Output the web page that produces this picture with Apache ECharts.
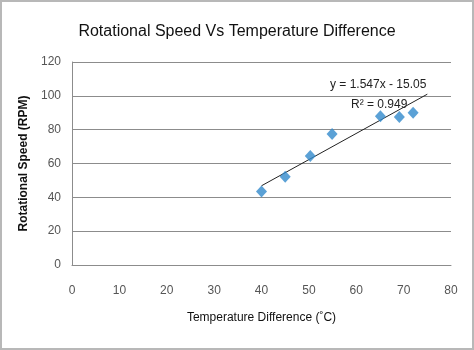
<!DOCTYPE html>
<html>
<head>
<meta charset="utf-8">
<script src="https://cdn.jsdelivr.net/npm/echarts@6/dist/echarts.min.js"></script>
<style>
    html, body { margin: 0; padding: 0; background: #fff; }
    #chart { width: 474px; height: 350px; box-sizing: border-box; border: 2px solid #b8b8b8; }
</style>
</head>
<body>
<div id="chart"></div>
<script>
// 数据
const tempDiff = [40, 45, 50.3, 54.9, 65.1, 69.1, 72];
const speed = [43.5, 52.2, 64.5, 77.5, 88, 87.5, 90];
const xTicks = [0, 10, 20, 30, 40, 50, 60, 70, 80];
const yTicks = [0, 20, 40, 60, 80, 100, 120];

// 趋势线 y = 1.547x - 15.05
const slope = 1.547;
const intercept = -15.05;
const trendRange = [40, 75];

const FONT = '"Liberation Sans", Arial, sans-serif';

const chart = echarts.init(document.getElementById('chart'));

const option = {
    animation: false,
    title: {
        text: 'Rotational Speed Vs Temperature Difference',
        left: 'center',
        top: 17,
        textStyle: { fontFamily: FONT, fontSize: 16, fontWeight: 'normal', color: '#111' }
    },
    grid: { left: 70, right: 21, top: 60, bottom: 83 },
    xAxis: {
        type: 'value',
        min: xTicks[0],
        max: xTicks[xTicks.length - 1],
        interval: 10,
        name: 'Temperature Difference (˚C)',
        nameLocation: 'middle',
        nameGap: 47,
        nameTextStyle: { fontFamily: FONT, fontSize: 12, color: '#111' },
        axisLine: { show: true, lineStyle: { color: '#8c8c8c' } },
        axisTick: { show: false },
        splitLine: { show: false },
        axisLabel: { fontFamily: FONT, fontSize: 12, color: '#555', margin: 20 }
    },
    yAxis: {
        type: 'value',
        min: yTicks[0],
        max: yTicks[yTicks.length - 1],
        interval: 20,
        name: 'Rotational Speed (RPM)',
        nameLocation: 'middle',
        nameGap: 30,
        nameTextStyle: { fontFamily: FONT, fontSize: 12, fontWeight: 'bold', color: '#111' },
        axisLine: { show: true, lineStyle: { color: '#8c8c8c' } },
        axisTick: { show: false },
        splitLine: { show: true, lineStyle: { color: '#8c8c8c' } },
        axisLabel: { fontFamily: FONT, fontSize: 12, color: '#555', margin: 11 }
    },
    graphic: [
        {
            type: 'text', left: 328, top: 77,
            style: { text: 'y = 1.547x - 15.05', font: '12px ' + FONT, fill: '#222' }
        },
        {
            type: 'text', left: 349, top: 97,
            style: { text: 'R² = 0.949', font: '12px ' + FONT, fill: '#222' }
        }
    ],
    series: [
        {
            type: 'line',
            data: trendRange.map(x => [x, slope * x + intercept]),
            symbol: 'none',
            lineStyle: { color: '#222', width: 1 },
            z: 1
        },
        {
            type: 'scatter',
            data: tempDiff.map((x, i) => [x, speed[i]]),
            symbol: 'diamond',
            symbolSize: [11, 12],
            itemStyle: { color: '#3289cc' },
            z: 2
        }
    ]
};

chart.setOption(option);
</script>
</body>
</html>
